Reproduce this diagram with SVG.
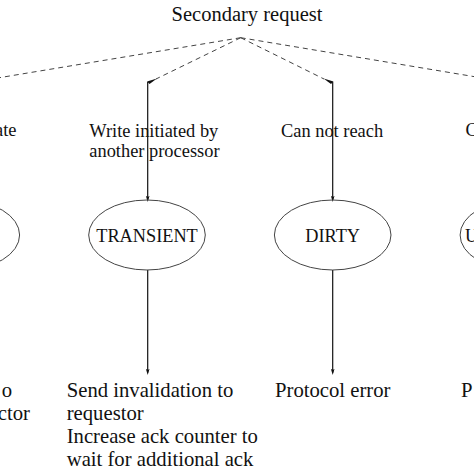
<svg xmlns="http://www.w3.org/2000/svg" width="474" height="474" viewBox="0 0 474 474">
<style>
text{font-family:"Liberation Serif","Times New Roman",serif;fill:#111}
.t{font-size:20.5px}
.lab{font-size:18.4px}
.st{font-size:18.3px}
.out{font-size:20.7px}
.dash{stroke:#444;stroke-width:1;stroke-dasharray:5 4;fill:none}
.arr{stroke:#111;stroke-width:1.2;fill:none;marker-end:url(#ah)}
ellipse{fill:none;stroke:#444;stroke-width:1}
.head{fill:#111}
</style>
<defs>
<marker id="ah" markerWidth="6" markerHeight="10" refX="6" refY="3" orient="auto" markerUnits="userSpaceOnUse" viewBox="0 0 10 6">
<path d="M0,0 L10,3 L0,6 L2,3 z" fill="#111"/>
</marker>
</defs>
<g id="root"><text class="t" x="247" y="21" text-anchor="middle">Secondary request</text></g>
<g id="connectors">
<line class="dash" x1="240.7" y1="37.7" x2="-38.7" y2="84"/>
<line class="dash" x1="240.7" y1="37.7" x2="518.4" y2="84"/>
<line class="dash" x1="240.7" y1="37.7" x2="156" y2="79"/>
<line class="dash" x1="240.7" y1="37.7" x2="324" y2="79"/>
<polygon class="head" points="147,81.5 149.5,84 157,78.5"/>
<polygon class="head" points="333.5,81.5 331,84 323.5,78.5"/>
<path class="arr" d="M147.7,82 V199.5"/>
<path class="arr" d="M332.7,82 V199.5"/>
<path class="arr" d="M147.7,270 V372.5"/>
<path class="arr" d="M332.7,270 V372.5"/>
</g>
<g id="label-left"><text class="lab" x="16.5" y="136" text-anchor="end">ate</text></g>
<g id="label-write"><text class="lab" x="89.3" y="136.5">Write initiated by</text><text class="lab" x="89.3" y="156.5">another processor</text></g>
<g id="label-reach"><text class="lab" x="281" y="136.5">Can not reach</text></g>
<g id="label-right"><text class="lab" x="465.5" y="136">C</text></g>
<g id="node-left"><ellipse cx="-38.7" cy="235" rx="58.3" ry="35"/></g>
<g id="node-transient"><ellipse cx="147" cy="235" rx="58.3" ry="35"/><text class="st" x="147" y="241.5" text-anchor="middle">TRANSIENT</text></g>
<g id="node-dirty"><ellipse cx="332.7" cy="235" rx="58.3" ry="35"/><text class="st" x="332.7" y="241.5" text-anchor="middle">DIRTY</text></g>
<g id="node-right"><ellipse cx="518.4" cy="235" rx="58.3" ry="35"/><text class="st" x="465" y="241.5">U</text></g>
<g id="out-left"><text class="out" x="12" y="397" text-anchor="end">o</text><text class="out" x="30" y="419.5" text-anchor="end">ctor</text></g>
<g id="out-transient"><text class="out" x="66.7" y="397">Send invalidation to</text><text class="out" x="66.7" y="420">requestor</text><text class="out" x="66.7" y="443">Increase ack counter to</text><text class="out" x="66.7" y="466">wait for additional ack</text></g>
<g id="out-dirty"><text class="out" x="275" y="397">Protocol error</text></g>
<g id="out-right"><text class="out" x="461" y="397">P</text></g>
</svg>
